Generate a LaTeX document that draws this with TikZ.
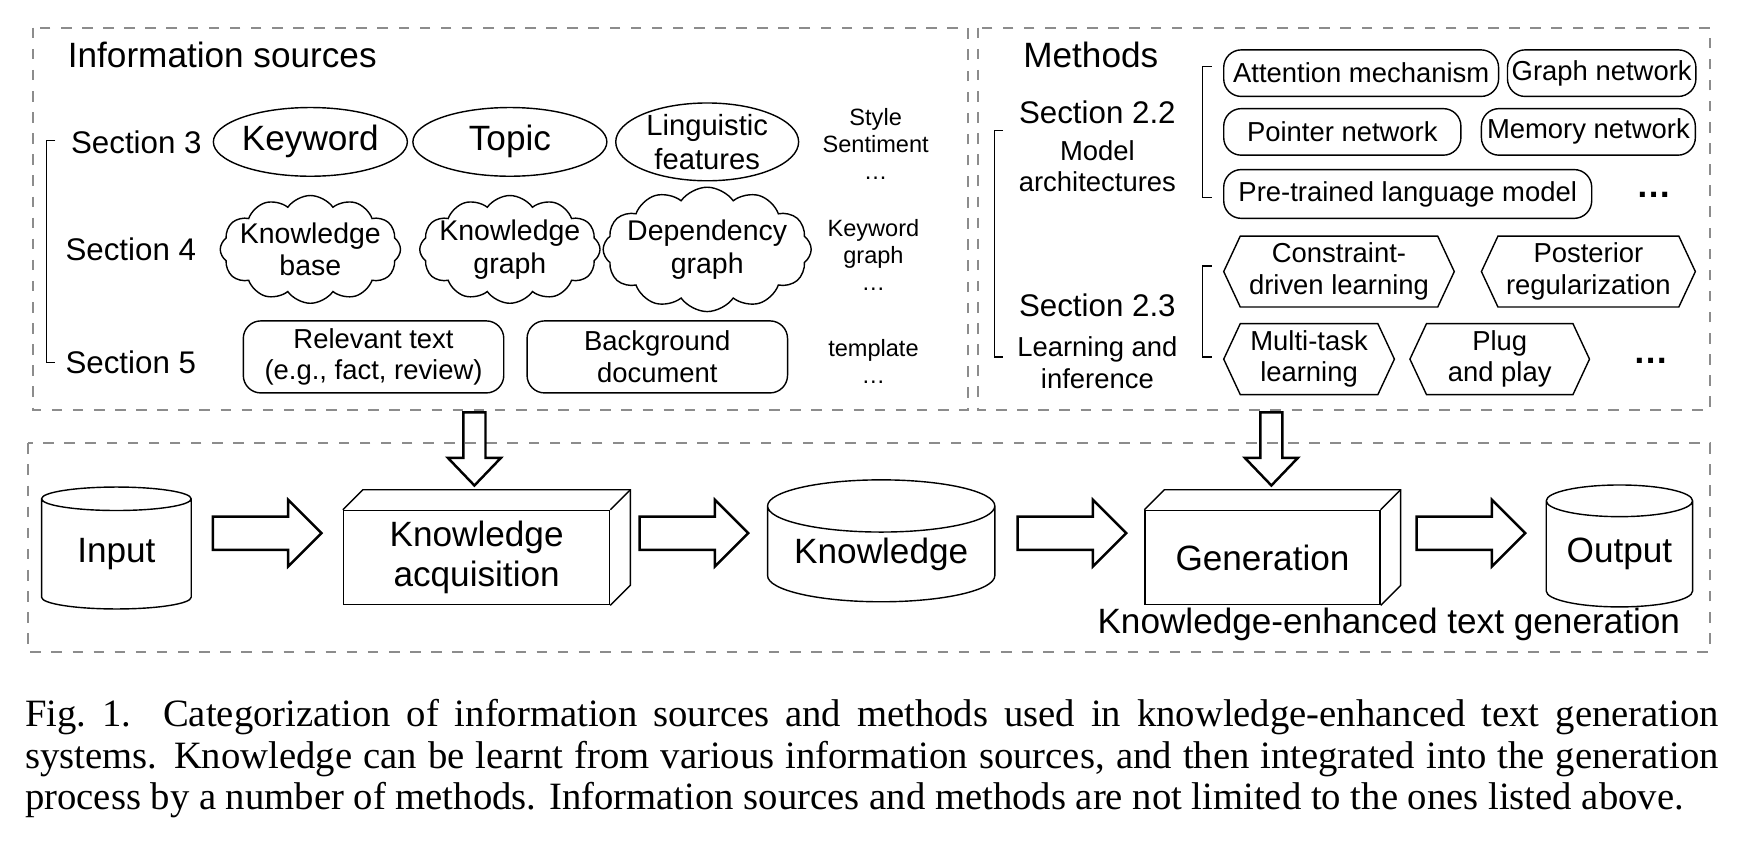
\documentclass[tikz,border=0pt]{standalone}
\usepackage{fontspec}
\setmainfont{Liberation Sans}
\newfontfamily\capfont{Liberation Serif}
\usetikzlibrary{shapes.geometric,shapes.symbols,calc}
\newcommand\pu{0.011084cm}
\newcommand\fs[1]{\fontsize{#1}{1.15\dimexpr#1pt\relax}\selectfont}
\begin{document}
\begin{tikzpicture}[x=\pu,y=-\pu,
  frame/.style={draw=black!45,dashed,line width=0.6pt},
  ell/.style={draw,ellipse,minimum width=175*\pu,minimum height=62*\pu,font=\fs{10},align=center,inner sep=0pt},
  cld/.style={draw,cloud,cloud puffs=12,cloud puff arc=110,aspect=2,minimum width=160*\pu,minimum height=80*\pu,font=\fs{8.1},align=center,inner sep=-2.5pt},
  rbox/.style={draw,rounded corners=5pt,align=center,font=\fs{7.8},inner sep=0pt},
  hex/.style={draw,signal,signal to=west and east,signal pointer angle=130,align=center,font=\fs{7.8},inner sep=0pt},
  sec/.style={font=\fs{8.9}},
  small/.style={font=\fs{6.7},align=center},
  cyl/.style={draw,cylinder,shape border rotate=90,aspect=0.3,font=\fs{10},inner sep=0pt},
  box/.style={draw,minimum width=240*\pu,minimum height=85*\pu,align=center,font=\fs{10},inner sep=0pt},
  barrow/.style={draw,line width=0.7pt}]
\useasboundingbox (0,0) rectangle (1568,761);
% frames
\draw[frame] (30,25) rectangle (873,370);
\draw[frame] (882,25) rectangle (1543,370);
\draw[frame] (25,400) rectangle (1543,588);
% information sources
\node[anchor=west,font=\fs{10}] (info) at (50,50) {Information sources};
\draw (50,127) -- (42,127) -- (42,327) -- (50,327);
\node[sec] (s3) at (123,128) {Section 3};
\node[sec] (s4) at (118,225) {Section 4};
\node[sec] (s5) at (118,327) {Section 5};
\node[ell] (kw) at (280,128) {Keyword};
\node[ell] (tp) at (460,128) {Topic};
\node[ell,minimum width=165*\pu,font=\fs{8.3}] (lf) at (638,128) {Linguistic\\features};
\node[small] (st) at (790,130) {Style\\Sentiment\\\dots};
\node[cld] (kb) at (280,225) {Knowledge\\base};
\node[cld] (kg) at (460,225) {Knowledge\\graph};
\node[cld] (dg) at (638,225) {Dependency\\graph};
\node[small] (kwg) at (788,230) {Keyword\\graph\\\dots};
\node[rbox,minimum width=235*\pu,minimum height=65*\pu] (rt) at (337,322) {Relevant text\\(e.g., fact, review)};
\node[rbox,minimum width=235*\pu,minimum height=65*\pu] (bd) at (593,322) {Background\\document};
\node[small] (tm) at (788,326) {template\\\dots};
% methods
\node[anchor=west,font=\fs{10}] (meth) at (912,50) {Methods};
\draw (905,118) -- (897,118) -- (897,322) -- (905,322);
\node[sec] (s22) at (990,101) {Section 2.2};
\node[small,font=\fs{7.8}] (ma) at (990,150) {Model\\architectures};
\node[sec] (s23) at (990,275) {Section 2.3};
\node[small,font=\fs{7.8}] (li) at (990,327) {Learning and\\inference};
\draw (1093,60) -- (1085,60) -- (1085,178) -- (1093,178);
\draw (1093,240) -- (1085,240) -- (1085,322) -- (1093,322);
\node[rbox,minimum width=248*\pu,minimum height=42*\pu] (am) at (1228,66) {Attention mechanism};
\node[rbox,minimum width=170*\pu,minimum height=42*\pu] (gn) at (1445,66) {Graph network};
\node[rbox,minimum width=214*\pu,minimum height=42*\pu] (pn) at (1211,119) {Pointer network};
\node[rbox,minimum width=193*\pu,minimum height=42*\pu] (mn) at (1433,119) {Memory network};
\node[rbox,minimum width=332*\pu,minimum height=44*\pu] (pt) at (1270,175) {Pre-trained language model};
\node[font=\bfseries\fs{10}] (d1) at (1492,176) {\dots};
\node[hex,minimum width=208*\pu,minimum height=64*\pu] (cd) at (1208,245) {Constraint-\\driven learning};
\node[hex,minimum width=193*\pu,minimum height=64*\pu] (pr) at (1433,245) {Posterior\\regularization};
\node[hex,minimum width=154*\pu,minimum height=64*\pu] (mt) at (1181,324) {Multi-task\\learning};
\node[hex,minimum width=162*\pu,minimum height=64*\pu] (pp) at (1353,324) {Plug\\and play};
\node[font=\bfseries\fs{10}] (d2) at (1490,326) {\dots};
% pipeline
\node[cyl,minimum width=135*\pu,minimum height=110*\pu] (in) at (105,500) {Input};
\node[box] (ka) at (430,503) {Knowledge\\acquisition};
\node[cyl,minimum width=205*\pu,minimum height=110*\pu] (kn) at (795,500) {Knowledge};
\node[box,minimum width=212*\pu] (ge) at (1139,503) {Generation};
\node[cyl,minimum width=132*\pu,minimum height=110*\pu] (out) at (1461,500) {Output};
\foreach \b in {ka,ge}{
  \draw (\b.north west) -- ++(18,-18) -| ($(\b.south east)+(18,-18)$) -- (\b.south east);
  \draw (\b.north east) -- ++(18,-18);
}
% block arrows
\coordinate (da1) at (428,372);
\coordinate (da2) at (1147,372);
\foreach \c in {da1,da2}
  \draw[barrow,shift={(\c)}] (-10,0) -- (10,0) -- (10,41) -- (24,41) -- (0,66) -- (-24,41) -- (-10,41) -- cycle;
\coordinate (a1) at (192,481);
\coordinate (a2) at (577,481);
\coordinate (a3) at (918,481);
\coordinate (a4) at (1278,481);
\foreach \c in {a1,a2,a3,a4}
  \draw[barrow,shift={(\c)}] (0,-15) -- (68,-15) -- (68,-30) -- (98,0) -- (68,30) -- (68,15) -- (0,15) -- cycle;
\node[anchor=east,font=\fs{10}] (keg) at (1527,563) {Knowledge-enhanced text generation};
% caption
\node[anchor=north west,text width=1528*\pu,align=justify,inner sep=0pt,font=\capfont\fontsize{11}{11.9}\selectfont] (cap) at (22,630)
{Fig.~1.\ \ Categorization of information sources and methods used in knowledge-enhanced text generation\linebreak
systems. Knowledge can be learnt from various information sources, and then integrated into the generation\linebreak
process by a number of methods. Information sources and methods are not limited to the ones listed above.};
\end{tikzpicture}
\end{document}
